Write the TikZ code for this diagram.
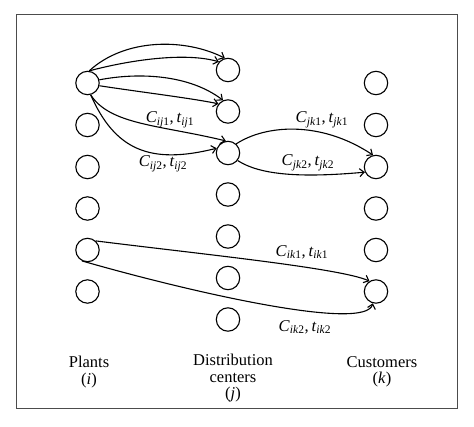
\documentclass[tikz,border=0pt]{standalone}
\usepackage{fontspec}
\setmainfont{Liberation Serif}
\usetikzlibrary{arrows.meta}
\newcommand\cstlab[2]{\textit{C}\textsubscript{\textit{#1}#2},\,\textit{t}\textsubscript{\textit{#1}#2}}
\tikzset{
  nd/.style={circle, draw, minimum size=23.4pt, inner sep=0pt, line width=1.1pt},
  arr/.style={-{Straight Barb[length=4.5pt,width=8pt]}, line width=1.1pt},
  lab/.style={inner sep=0pt, font=\fontsize{16.5}{17}\selectfont},
  capnode/.style={inner sep=0pt, anchor=north, align=center, font=\fontsize{16.5}{16.5}\selectfont},
}
\begin{document}
\begin{tikzpicture}[x=1pt,y=-1pt]
\useasboundingbox (0,0) rectangle (474,427);
\fill[white] (0,0) rectangle (474,427);
\draw[line width=1pt, draw=black!70] (16,15) rectangle (457,409);
% plants
\foreach \i/\y in {1/83,2/125,3/167,4/208.5,5/250,6/291.5}
  \node[nd] (P\i) at (87.5,\y) {};
% distribution centers
\foreach \i/\y in {1/70,2/111.5,3/153,4/194.5,5/236.5,6/278,7/319.5}
  \node[nd] (D\i) at (228,\y) {};
% customers
\foreach \i/\y in {1/83,2/125,3/167,4/208.5,5/250,6/291.5}
  \node[nd] (K\i) at (376,\y) {};
% edges plant 1 -> DCs
\draw[arr] (P1.82) .. controls (125,38) and (185,38) .. (D1.105);
\draw[arr] (P1.82) .. controls (130,60) and (185,52) .. (D1.138);
\draw[arr] (P1.15) .. controls (140,72) and (190,75) .. (D2.114);
\draw[arr] (P1.-13) .. controls (140,92) and (190,98) .. (D2.141);
\draw[arr] (P1.-75) .. controls (110,125) and (160,125) .. (D3.100);
\draw[arr] (P1.-75) .. controls (115,150) and (150,165) .. (D3.157);
% DC 3 -> customer 3
\draw[arr] (D3.48) .. controls (265,125) and (320,120) .. (K3.104);
\draw[arr] (D3.-38) .. controls (260,175) and (300,178) .. (K3.205);
% plant 5 -> customer 6
\draw[arr] (P5.48) .. controls (200,254) and (340,268) .. (K6.122);
\draw[arr] (P5.-117) .. controls (190,292) and (365,332) .. (K6.-105);
% edge labels
\node[lab] (L1) at (170,120) {\cstlab{ij}{1}};
\node[lab] (L2) at (163,164) {\cstlab{ij}{2}};
\node[lab] (L3) at (322,120) {\cstlab{jk}{1}};
\node[lab] (L4) at (308,163) {\cstlab{jk}{2}};
\node[lab] (L5) at (302,252) {\cstlab{ik}{1}};
\node[lab] (L6) at (305,327) {\cstlab{ik}{2}};
% captions
\node[capnode] (CP) at (89,356) {Plants\\(\textit{i})};
\node[capnode] (CD) at (233,354) {Distribution\\centers\\(\textit{j})};
\node[capnode] (CK) at (382,356) {Customers\\(\textit{k})};
\end{tikzpicture}
\end{document}
